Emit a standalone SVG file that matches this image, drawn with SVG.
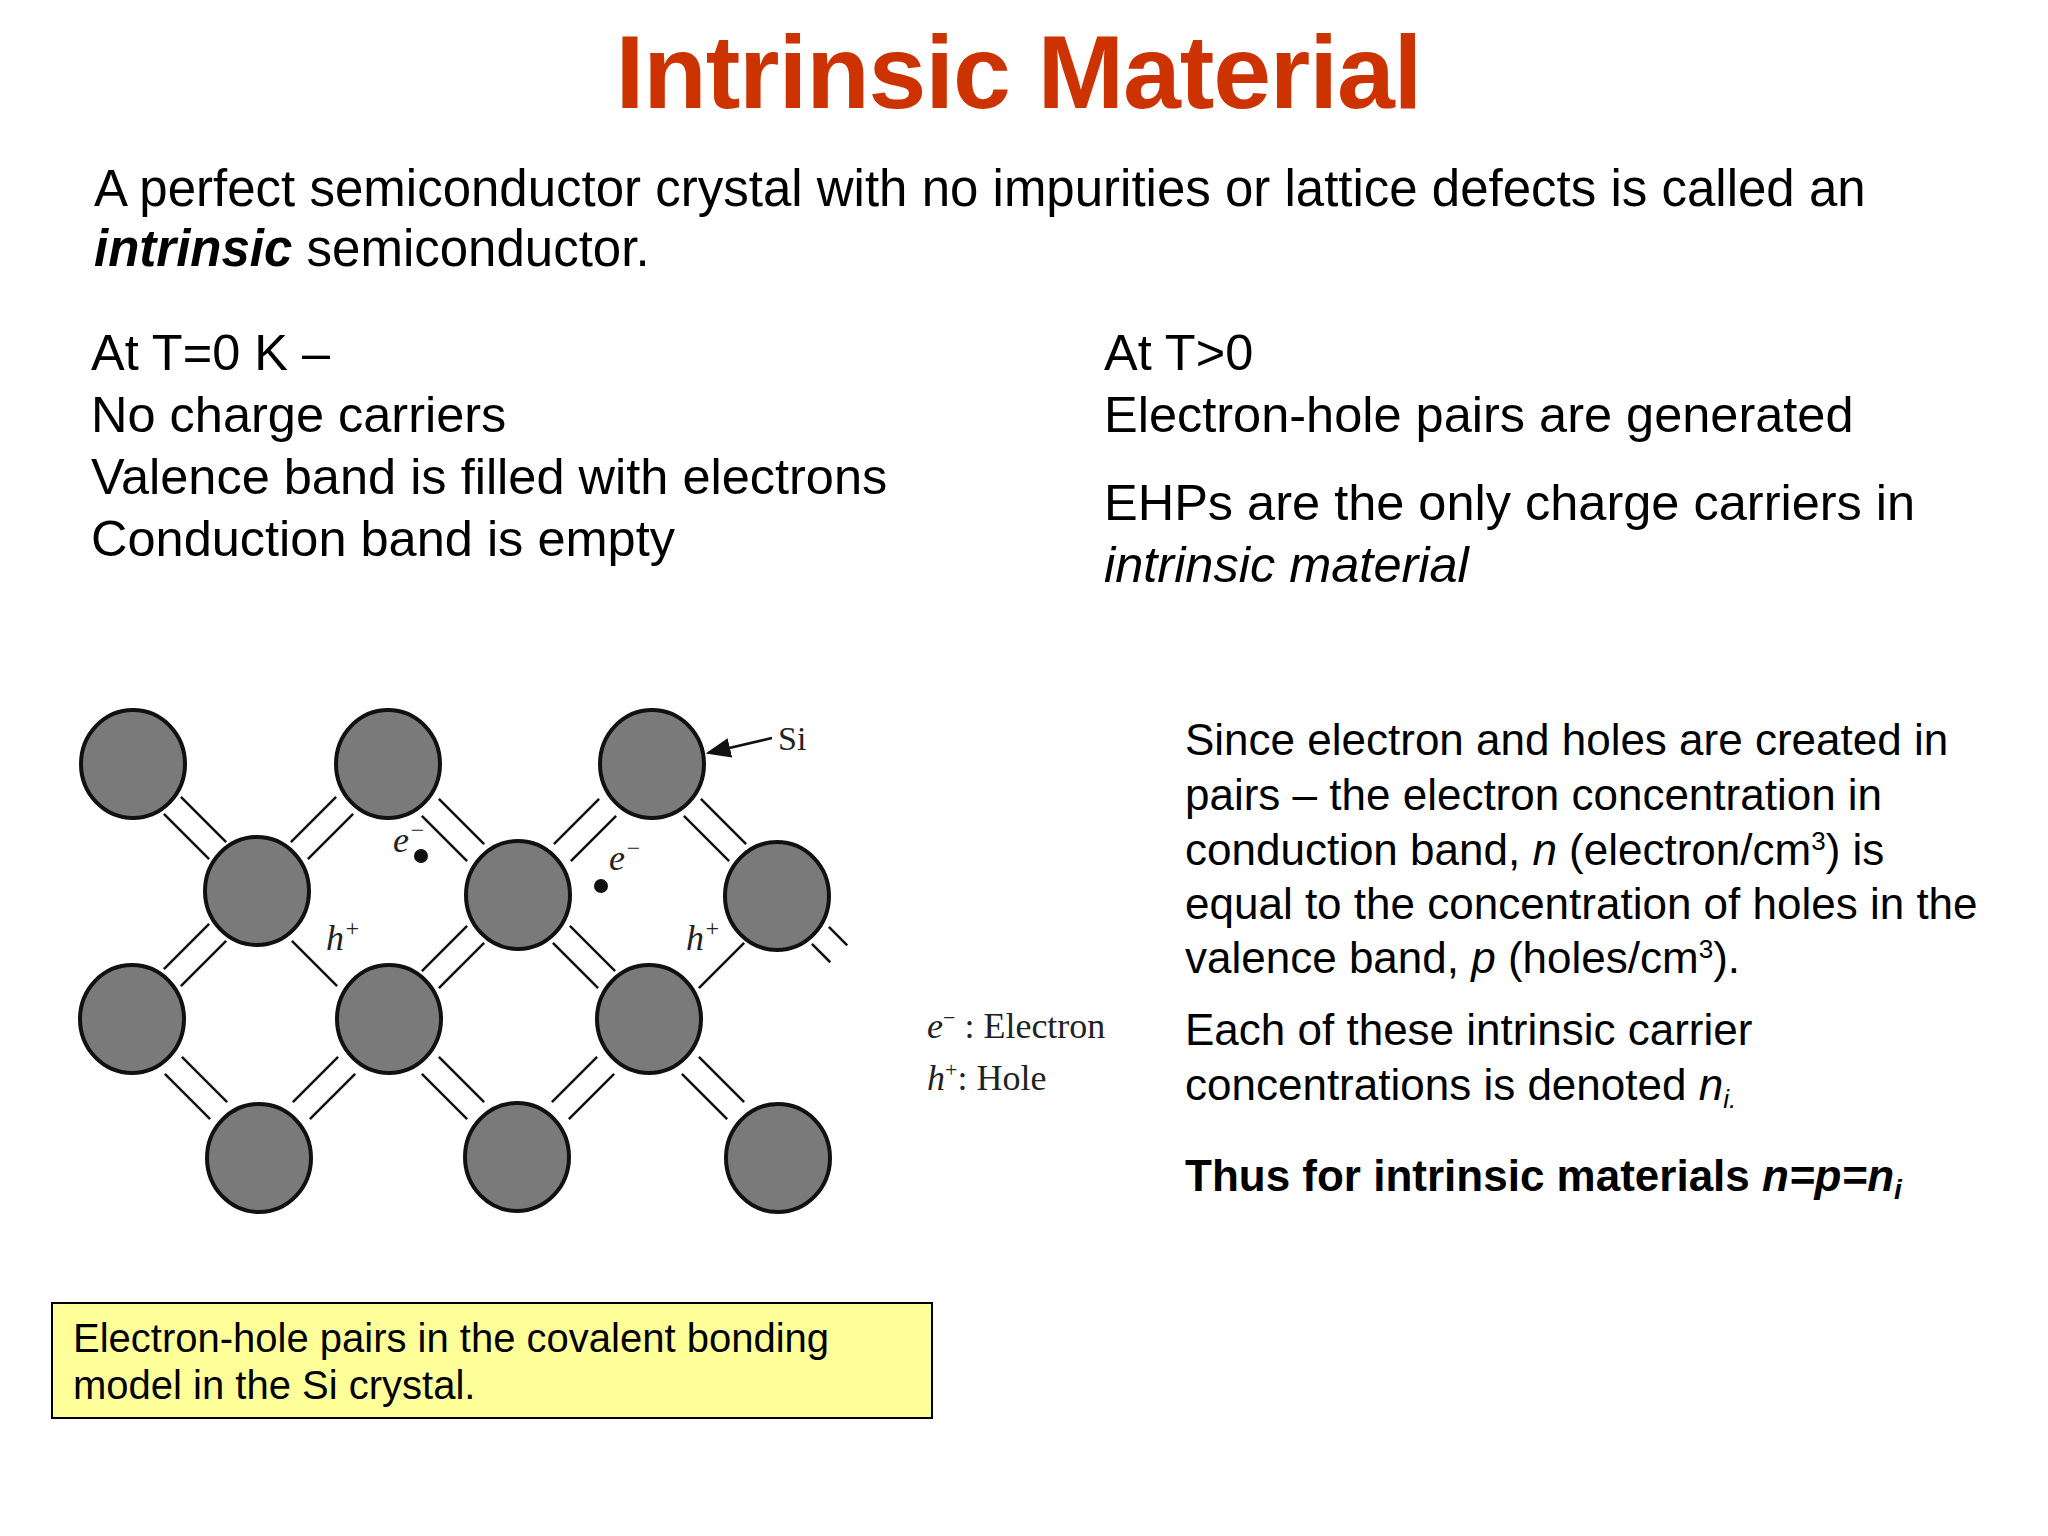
<svg xmlns="http://www.w3.org/2000/svg" xmlns:xlink="http://www.w3.org/1999/xlink" width="2048" height="1536" viewBox="0 0 2048 1536">
<style>
.t{font-family:"Liberation Sans",Arial,sans-serif;fill:#000}
.b{font-size:50.5px}
.r{font-size:44px}
.s{font-family:"Liberation Serif","Times New Roman",serif;fill:#222}
.atom{fill:#7a7a7a;stroke:#111;stroke-width:4}
.bond line{stroke:#111;stroke-width:2.5}
</style>
<defs>
<g id="bond" class="bond"><line x1="-32" y1="-12" x2="32" y2="-12"/><line x1="-32" y1="12" x2="32" y2="12"/></g>
<g id="single" class="bond"><line x1="-32" y1="12" x2="32" y2="12"/></g>
<g id="half" class="bond"><line x1="-32" y1="-12" x2="-6" y2="-12"/><line x1="-32" y1="12" x2="-6" y2="12"/></g>
<marker id="ah" markerWidth="10" markerHeight="8" refX="9" refY="4" orient="auto"><path d="M0,0 L10,4 L0,8 z" fill="#111"/></marker>
</defs>
<rect width="2048" height="1536" fill="#fff"/>
<text x="1019" y="108" text-anchor="middle" class="t" style="font-size:104px;font-weight:bold;fill:#cc3300" textLength="807">Intrinsic Material</text>
<text x="94" y="206" class="t" style="font-size:51px">A perfect semiconductor crystal with no impurities or lattice defects is called an</text>
<text x="94" y="266" class="t" style="font-size:51px"><tspan font-weight="bold" font-style="italic">intrinsic</tspan> semiconductor.</text>
<g class="t b">
<text x="91" y="370">At T=0 K –</text>
<text x="91" y="432">No charge carriers</text>
<text x="91" y="494">Valence band is filled with electrons</text>
<text x="91" y="556">Conduction band is empty</text>
<text x="1104" y="370">At T&gt;0</text>
<text x="1104" y="432">Electron-hole pairs are generated</text>
<text x="1104" y="520">EHPs are the only charge carriers in</text>
<text x="1104" y="582" font-style="italic">intrinsic material</text>
</g>
<g id="connectors">
<use xlink:href="#bond" transform="translate(195,828) rotate(45)"/>
<use xlink:href="#bond" transform="translate(322,828) rotate(-45)"/>
<use xlink:href="#bond" transform="translate(453,830) rotate(45)"/>
<use xlink:href="#bond" transform="translate(585,830) rotate(-45)"/>
<use xlink:href="#bond" transform="translate(715,830) rotate(45)"/>
<use xlink:href="#bond" transform="translate(195,955) rotate(-45)"/>
<use xlink:href="#single" transform="translate(323,955) rotate(45)"/>
<use xlink:href="#bond" transform="translate(453,957) rotate(-45)"/>
<use xlink:href="#bond" transform="translate(584,957) rotate(45)"/>
<use xlink:href="#single" transform="translate(713,957) rotate(-45)"/>
<use xlink:href="#half" transform="translate(843,958) rotate(45)"/>
<use xlink:href="#bond" transform="translate(196,1088) rotate(45)"/>
<use xlink:href="#bond" transform="translate(324,1088) rotate(-45)"/>
<use xlink:href="#bond" transform="translate(453,1088) rotate(45)"/>
<use xlink:href="#bond" transform="translate(583,1088) rotate(-45)"/>
<use xlink:href="#bond" transform="translate(713,1088) rotate(45)"/>
<line x1="772" y1="738" x2="708" y2="753" stroke="#111" stroke-width="2.5" marker-end="url(#ah)"/>
</g>
<g id="atoms">
<ellipse class="atom" cx="133" cy="764" rx="52" ry="54"/>
<ellipse class="atom" cx="388" cy="764" rx="52" ry="54"/>
<ellipse class="atom" cx="652" cy="764" rx="52" ry="54"/>
<ellipse class="atom" cx="257" cy="891" rx="52" ry="54"/>
<ellipse class="atom" cx="518" cy="895" rx="52" ry="54"/>
<ellipse class="atom" cx="777" cy="896" rx="52" ry="54"/>
<ellipse class="atom" cx="132" cy="1019" rx="52" ry="54"/>
<ellipse class="atom" cx="389" cy="1019" rx="52" ry="54"/>
<ellipse class="atom" cx="649" cy="1019" rx="52" ry="54"/>
<ellipse class="atom" cx="259" cy="1158" rx="52" ry="54"/>
<ellipse class="atom" cx="517" cy="1157" rx="52" ry="54"/>
<ellipse class="atom" cx="778" cy="1158" rx="52" ry="54"/>
</g>
<g id="carriers" class="s" style="font-size:36px;font-style:italic">
<circle cx="421" cy="856" r="7" fill="#111"/>
<circle cx="601" cy="886" r="7" fill="#111"/>
<text x="393" y="852">e<tspan font-size="24" dy="-14">−</tspan></text>
<text x="609" y="870">e<tspan font-size="24" dy="-14">−</tspan></text>
<text x="326" y="950">h<tspan font-size="24" dy="-14">+</tspan></text>
<text x="686" y="950">h<tspan font-size="24" dy="-14">+</tspan></text>
<text x="778" y="750" font-style="normal" font-size="34">Si</text>
</g>
<g id="legend" class="s" style="font-size:36px">
<text x="927" y="1038"><tspan font-style="italic">e</tspan><tspan font-size="22" dy="-13">−</tspan><tspan dy="13"> : Electron</tspan></text>
<text x="927" y="1090"><tspan font-style="italic">h</tspan><tspan font-size="22" dy="-13">+</tspan><tspan dy="13">:  Hole</tspan></text>
</g>
<g class="t r">
<text x="1185" y="755">Since electron and holes are created in</text>
<text x="1185" y="810">pairs – the electron concentration in</text>
<text x="1185" y="865">conduction band, <tspan font-style="italic">n</tspan> (electron/cm<tspan font-size="26" dy="-15">3</tspan><tspan dy="15">) is</tspan></text>
<text x="1185" y="919">equal to the concentration of holes in the</text>
<text x="1185" y="973">valence band, <tspan font-style="italic">p</tspan> (holes/cm<tspan font-size="26" dy="-15">3</tspan><tspan dy="15">).</tspan></text>
<text x="1185" y="1045">Each of these intrinsic carrier</text>
<text x="1185" y="1100">concentrations is denoted  <tspan font-style="italic">n<tspan font-size="26" dy="8">i.</tspan></tspan></text>
<text x="1185" y="1191" font-weight="bold">Thus for intrinsic materials <tspan font-style="italic">n=p=n<tspan font-size="28" dy="8">i</tspan></tspan></text>
</g>
<g id="caption">
<rect x="52" y="1303" width="880" height="115" fill="#ffff99" stroke="#000" stroke-width="2"/>
<text x="73" y="1352" class="t" style="font-size:40px">Electron-hole pairs in the covalent bonding</text>
<text x="73" y="1399" class="t" style="font-size:40px">model in the Si crystal.</text>
</g>
</svg>
